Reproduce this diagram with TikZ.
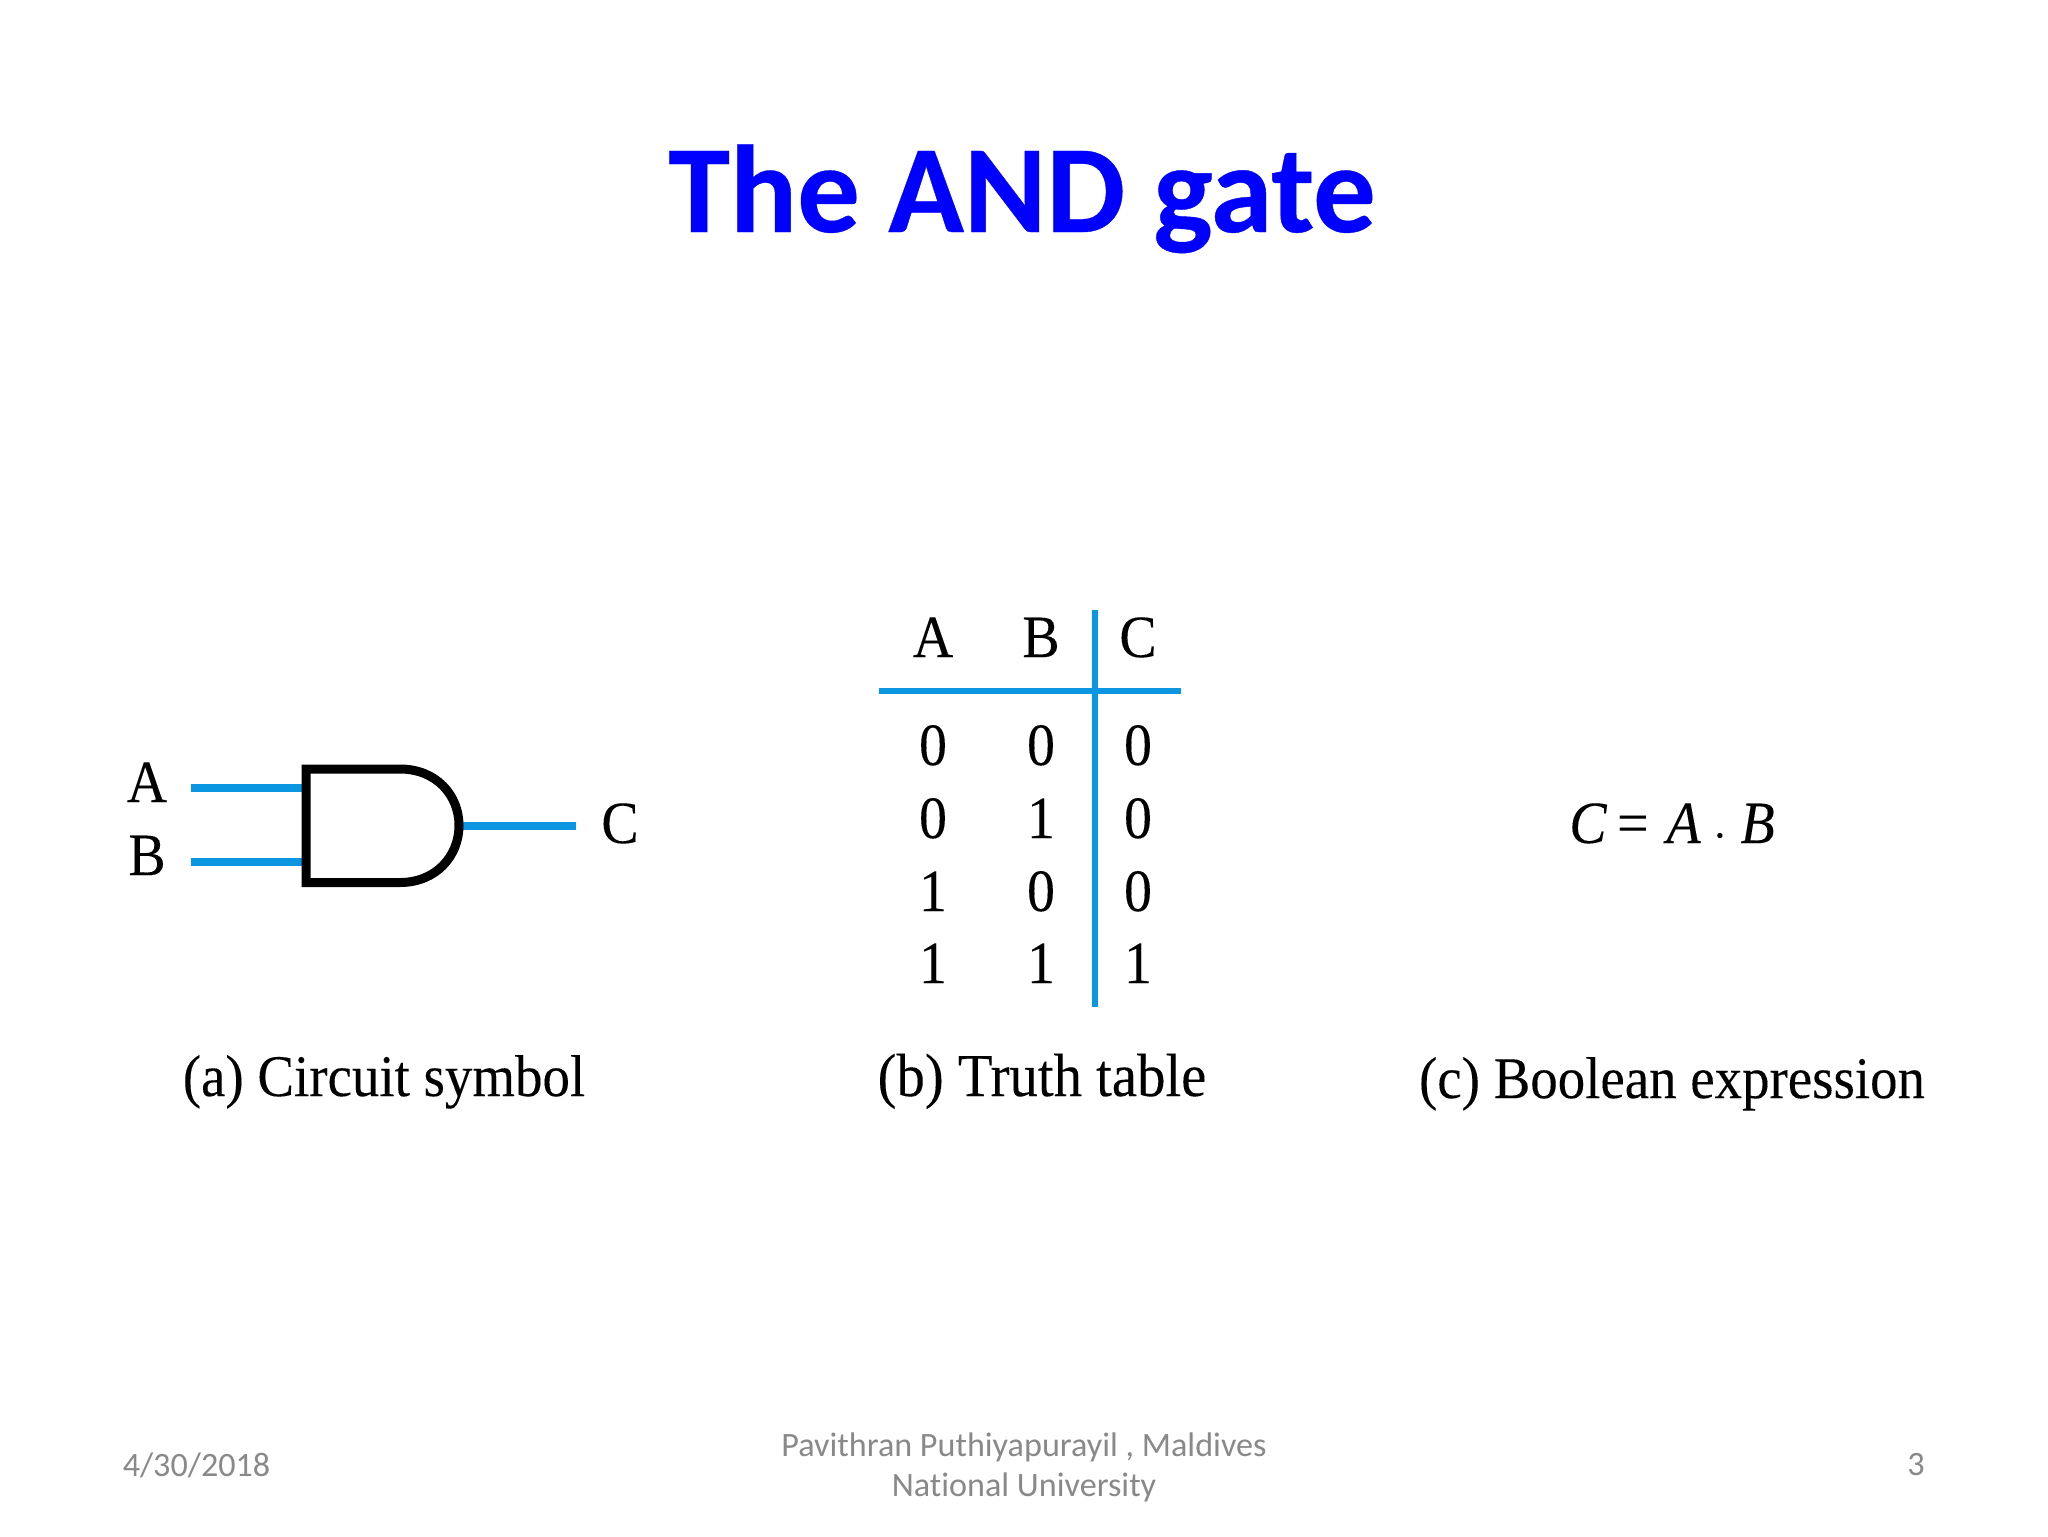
\documentclass[tikz,border=0pt]{standalone}
\usepackage{fontspec}
\setmainfont{Liberation Serif}[FakeStretch=0.93,FakeBold=0.12]
\newfontfamily\slidefont{Carlito}[Ligatures=NoCommon]
\newfontfamily\titlefont{Carlito}[Ligatures=NoCommon,BoldFont={Carlito Bold},BoldFeatures={FakeBold=0.3}]
\definecolor{wireblue}{HTML}{0A96E0}
\definecolor{footgray}{HTML}{898989}
\definecolor{titleblue}{HTML}{0000FF}
\begin{document}
\begin{tikzpicture}[x=0.5pt,y=-0.5pt,
  titletext/.style={inner sep=0,anchor=base,font=\titlefont\bfseries\fontsize{62.5}{68}\selectfont,text=titleblue},
  foottext/.style={inner sep=0,anchor=center,align=center,font=\slidefont\fontsize{17.07}{20}\selectfont,text=footgray},
  lettertext/.style={inner sep=0,anchor=base,font=\fontsize{30}{34}\selectfont,text=black},
  captiontext/.style={inner sep=0,anchor=base,font=\fontsize{29.5}{34}\selectfont,text=black},
  wire/.style={draw=wireblue,line width=4pt},
  rule/.style={draw=wireblue,line width=3pt},
  gateline/.style={draw=black,line width=4.5pt,miter limit=10}]
\useasboundingbox (0,0) rectangle (2048,1536);
\fill[white] (0,0) rectangle (2048,1536);
\node[titletext] (title) at (1022,232) {The AND gate};
% circuit symbol
\coordinate (ga) at (303,787.5);
\coordinate (gb) at (303,862);
\coordinate (gc) at (463,825.5);
\coordinate (wa) at (191,787.5);
\coordinate (wb) at (191,862);
\coordinate (wc) at (576,825.5);
\draw[wire] (wa) -- (ga);
\draw[wire] (wb) -- (gb);
\draw[wire] (gc) -- (wc);
\draw[gateline] (306,769) -- (400,769) .. controls (436,769) and (459,795) .. (459,825.5) .. controls (459,856) and (436,882.5) .. (400,882.5) -- (306,882.5) -- cycle;
\node[lettertext] (la) at (147,802) {A};
\node[lettertext] (lb) at (147,875) {B};
\node[lettertext] (lc) at (620,843) {C};
\node[captiontext] (capa) at (384,1096) {(a) Circuit symbol};
% truth table
\coordinate (vt) at (1094.5,610);
\coordinate (vb) at (1094.5,1007);
\coordinate (hl) at (879,691);
\coordinate (hr) at (1181,691);
\draw[rule] (vt) -- (vb);
\draw[rule] (hl) -- (hr);
\node[lettertext] (ta) at (933,657) {A};
\node[lettertext] (tb) at (1041,657) {B};
\node[lettertext] (tc) at (1138,657) {C};
\node[lettertext] (r1a) at (933,765) {0};
\node[lettertext] (r1b) at (1041,765) {0};
\node[lettertext] (r1c) at (1138,765) {0};
\node[lettertext] (r2a) at (933,838) {0};
\node[lettertext] (r2b) at (1041,838) {1};
\node[lettertext] (r2c) at (1138,838) {0};
\node[lettertext] (r3a) at (933,911) {1};
\node[lettertext] (r3b) at (1041,911) {0};
\node[lettertext] (r3c) at (1138,911) {0};
\node[lettertext] (r4a) at (933,983) {1};
\node[lettertext] (r4b) at (1041,983) {1};
\node[lettertext] (r4c) at (1138,983) {1};
\node[captiontext,font=\fontsize{30.5}{34}\selectfont] (capb) at (1042,1096) {(b) Truth table};
% expression
\node[lettertext] (expr) at (1672,843) {\textit{C}\,=\hspace{9pt}\textit{A}\hspace{6.5pt}\raisebox{-2.5pt}{\fontsize{40}{40}\selectfont$\cdot$}\hspace{6.5pt}\textit{B}};
\node[captiontext] (capc) at (1672,1098) {(c) Boolean expression};
% footer
\node[foottext] (date) at (196.5,1465) {4/30/2018};
\node[foottext] (auth) at (1024,1467) {Pavithran Puthiyapurayil , Maldives\\National University};
\node[foottext] (page) at (1916,1465) {3};
\end{tikzpicture}
\end{document}
